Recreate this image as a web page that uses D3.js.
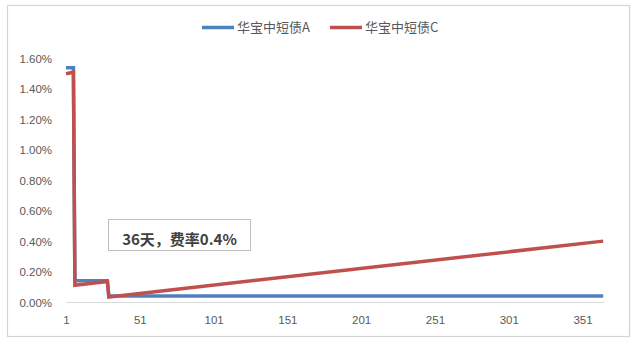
<!DOCTYPE html>
<html>
<head>
<meta charset="utf-8">
<script src="https://cdn.jsdelivr.net/npm/d3@7"></script>
<style>
    body { margin: 0; background: #fff; }
    svg { display: block; }
    .tick-label { font-family: "Liberation Sans", Arial, sans-serif; font-size: 11.5px; fill: #595959; }
</style>
</head>
<body>
<svg id="chart" width="640" height="345"></svg>
<script>
// Series data: holding day -> fee rate (%)
const seriesNames = ['华宝中短债A', '华宝中短债C'];
const seriesColors = ['#4f81bd', '#c0504d'];
const daysA = [1, 6, 7, 29, 30, 365];
const valuesA = [1.54, 1.54, 0.14, 0.14, 0.04, 0.04];
const daysC = [1, 6, 7, 29, 30, 365];
const valuesC = [1.50, 1.51, 0.11, 0.135, 0.033, 0.40];

// Tick labels
const xTicks = [1, 51, 101, 151, 201, 251, 301, 351];
const yTicks = [0, 0.2, 0.4, 0.6, 0.8, 1.0, 1.2, 1.4, 1.6];
const noteText = '36天，费率0.4%';

const svg = d3.select('#chart');

// Outer chart frame
svg.append('rect')
    .attr('x', 7.5).attr('y', 5.5)
    .attr('width', 622).attr('height', 331)
    .attr('fill', '#fff')
    .attr('stroke', '#d4d4d4')
    .attr('stroke-width', 1.2);

// Scales
const xScale = d3.scaleLinear().domain([0.5, 365.5]).range([65.3, 603.9]);
const yScale = d3.scaleLinear().domain([0, 1.6]).range([302, 58.5]);

// X axis
const xAxis = d3.axisBottom(xScale)
    .tickValues(xTicks)
    .tickSize(0)
    .tickPadding(14)
    .tickFormat(d3.format('d'));

const gx = svg.append('g')
    .attr('transform', `translate(0, ${yScale(0)})`)
    .call(xAxis);
gx.select('.domain').attr('stroke', '#d9d9d9').attr('stroke-width', 1.2);
gx.selectAll('text').attr('class', 'tick-label').attr('fill', null);

// Y axis (labels only)
const yAxis = d3.axisLeft(yScale)
    .tickValues(yTicks)
    .tickSize(0)
    .tickPadding(13)
    .tickFormat(d => d.toFixed(2) + '%');

const gy = svg.append('g')
    .attr('transform', `translate(65, 0)`)
    .call(yAxis);
gy.select('.domain').remove();
gy.selectAll('text').attr('class', 'tick-label').attr('fill', null).attr('dy', '0.35em');

// Lines
const line = d3.line()
    .x(d => xScale(d[0]))
    .y(d => yScale(d[1]));

const series = [
    d3.zip(daysA, valuesA),
    d3.zip(daysC, valuesC)
];

series.forEach((pts, i) => {
    svg.append('path')
        .datum(pts)
        .attr('d', line)
        .attr('fill', 'none')
        .attr('stroke', seriesColors[i])
        .attr('stroke-width', 3.5)
        .attr('stroke-linejoin', 'miter');
});

// Legend
const legendItems = [
    { x: 202, name: seriesNames[0], color: seriesColors[0] },
    { x: 330, name: seriesNames[1], color: seriesColors[1] }
];
const legend = svg.append('g');
legendItems.forEach(item => {
    legend.append('line')
        .attr('x1', item.x).attr('x2', item.x + 32)
        .attr('y1', 27.5).attr('y2', 27.5)
        .attr('stroke', item.color)
        .attr('stroke-width', 3.5);
    legend.append('text')
        .attr('x', item.x + 35)
        .attr('y', 32)
        .style('font-family', '"Noto Sans CJK SC", sans-serif')
        .style('font-size', '13px')
        .style('fill', '#595959')
        .text(item.name);
});

// Annotation box
const note = svg.append('g');
note.append('rect')
    .attr('x', 108.5).attr('y', 219.5)
    .attr('width', 142).attr('height', 31)
    .attr('fill', '#fff')
    .attr('stroke', '#bfbfbf')
    .attr('stroke-width', 1);
note.append('text')
    .attr('x', 179.5)
    .attr('y', 241)
    .attr('text-anchor', 'middle')
    .attr('dominant-baseline', 'middle')
    .style('font-family', '"Noto Sans CJK SC", sans-serif')
    .style('font-size', '15px')
    .style('font-weight', 'bold')
    .style('fill', '#404040')
    .text(noteText);
</script>
</body>
</html>
